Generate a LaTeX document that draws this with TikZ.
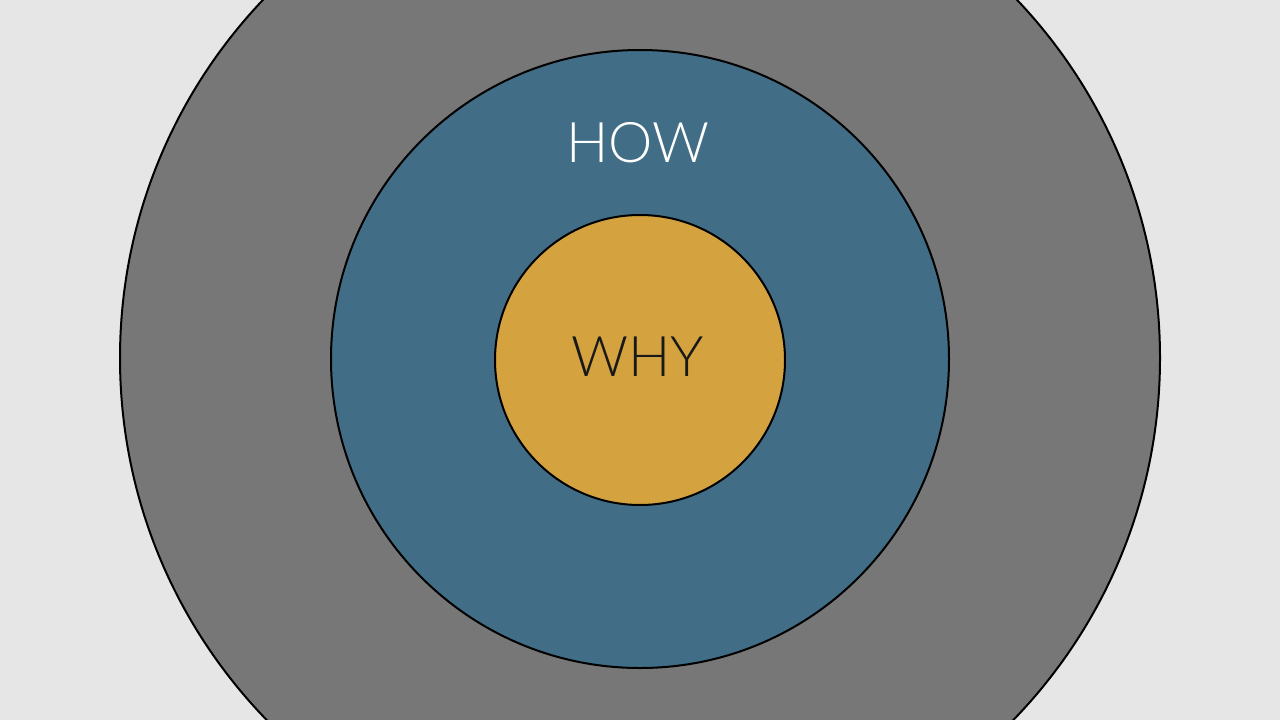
\documentclass[tikz,border=0pt]{standalone}
\usepackage{fontspec}
\setmainfont{Lato}[UprightFont=* Light]
\definecolor{bgc}{HTML}{E6E6E6}
\definecolor{outc}{HTML}{777777}
\definecolor{midc}{HTML}{416E86}
\definecolor{inc}{HTML}{D4A33F}
\tikzset{ring/.style={circle, draw=black, line width=2pt, inner sep=0pt, outer sep=0pt},
lbl/.style={font=\fontsize{56}{60}\selectfont, inner sep=0pt}}
\begin{document}
\begin{tikzpicture}[x=1pt,y=-1pt]
\useasboundingbox (0,0) rectangle (1280,720);
\clip (0,0) rectangle (1280,720);
\fill[bgc] (0,0) rectangle (1280,720);
\node[ring, fill=outc, minimum size=1040pt] (outer) at (640,358) {};
\node[ring, fill=midc, minimum size=618pt] (middle) at (640,359) {};
\node[ring, fill=inc, minimum size=290pt] (inner) at (640,360) {};
\node[lbl, text=white] (how) at (638,143) {HOW};
\node[lbl, text=black!90] (why) at (638,357) {WHY};
\end{tikzpicture}
\end{document}
